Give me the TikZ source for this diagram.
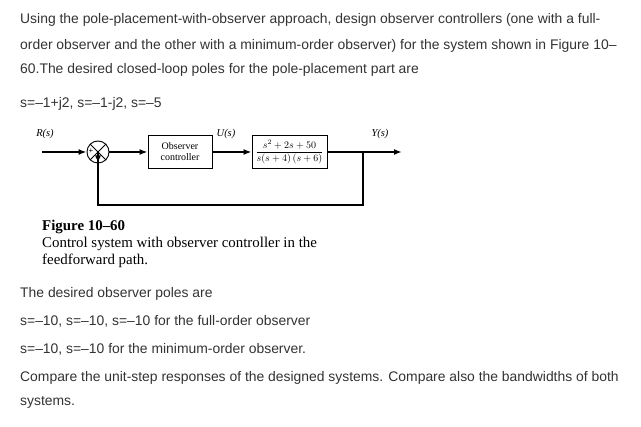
\documentclass[tikz,border=0pt]{standalone}
\usepackage{fontspec}
\setmainfont{Liberation Sans}
\newfontfamily\serifx{Liberation Serif}
\usetikzlibrary{arrows.meta}
\begin{document}
\begin{tikzpicture}[x=1pt,y=-1pt,
  txt/.style={anchor=base west,inner sep=0pt,text=black!80,font=\fontsize{13.9}{15}\selectfont},
  captxt/.style={anchor=base west,inner sep=0pt,font=\serifx\fontsize{14.9}{16}\selectfont},
  blk/.style={draw,line width=0.9pt,minimum width=64pt,minimum height=33pt,inner sep=1pt,font=\serifx\fontsize{10}{11}\selectfont,align=center},
  sig/.style={line width=2.6pt},
  arr/.style={sig,-{Latex[length=8pt,width=6pt]}},
  lab/.style={font=\serifx\itshape\fontsize{10.5}{11}\selectfont,inner sep=0pt}]
\useasboundingbox[fill=white] (0,0) rectangle (641,427);
\node[txt] (t1) at (20,24) {Using the pole-placement-with-observer approach, design observer controllers (one with a full-};
\node[txt] (t2) at (20,50) {order observer and the other with a minimum-order observer) for the system shown in Figure 10–};
\node[txt] (t3) at (20,74) {60.The desired closed-loop poles for the pole-placement part are};
\node[txt] (t4) at (20,108) {s=–1+j2, s=–1-j2, s=–5};
\node[txt] (t5) at (20,298) {The desired observer poles are};
\node[txt] (t6) at (20,326) {s=–10, s=–10, s=–10 for the full-order observer};
\node[txt] (t7) at (20,354) {s=–10, s=–10 for the minimum-order observer.};
\node[txt] (t8) at (20,382) {Compare the unit-step responses of the designed systems. Compare also the bandwidths of both};
\node[txt] (t9) at (20,406) {systems.};
\node[captxt,font=\serifx\bfseries\fontsize{14.9}{16}\selectfont] (c1) at (42,231) {Figure 10–60};
\node[captxt] (c2) at (42,248) {Control system with observer controller in the};
\node[captxt] (c3) at (42,265) {feedforward path.};
% diagram
\coordinate (in) at (42,152);
\node[draw,circle,line width=0.9pt,minimum size=22pt,inner sep=0pt] (sum) at (98,152) {};
\draw[line width=0.9pt] (sum.north west) -- (sum.south east) (sum.north east) -- (sum.south west);
\node[font=\fontsize{8}{8}\selectfont,inner sep=0pt] (pl) at (91,151) {+};
\node[font=\fontsize{8}{8}\selectfont,inner sep=0pt] (mi) at (98,159) {–};
\node[blk] (obs) at (180,152) {Observer\\controller};
\node[blk,minimum width=75pt] (pl2) at (289.5,152) {\fontsize{10}{11}\selectfont$\displaystyle\frac{s^2+2s+50}{s(s+4)\,(s+6)}$};
\coordinate (br) at (363,152);
\coordinate (out) at (402,152);
\coordinate (fb) at (363,205);
\coordinate (fb2) at (98,205);
\draw[arr] (in) -- (sum);
\draw[arr] (sum) -- (obs);
\draw[arr] (obs) -- (pl2);
\draw[arr] (pl2) -- (out);
\draw[sig,line join=miter] (br) -- (fb) -- (fb2) -- ([yshift=8pt]sum.south);
\draw[arr] ([yshift=10pt]sum.south) -- (sum.south);
\node[lab] (R) at (45,134) {R(s)};
\node[lab] (U) at (226,134) {U(s)};
\node[lab] (Y) at (380,134) {Y(s)};
\end{tikzpicture}
\end{document}
